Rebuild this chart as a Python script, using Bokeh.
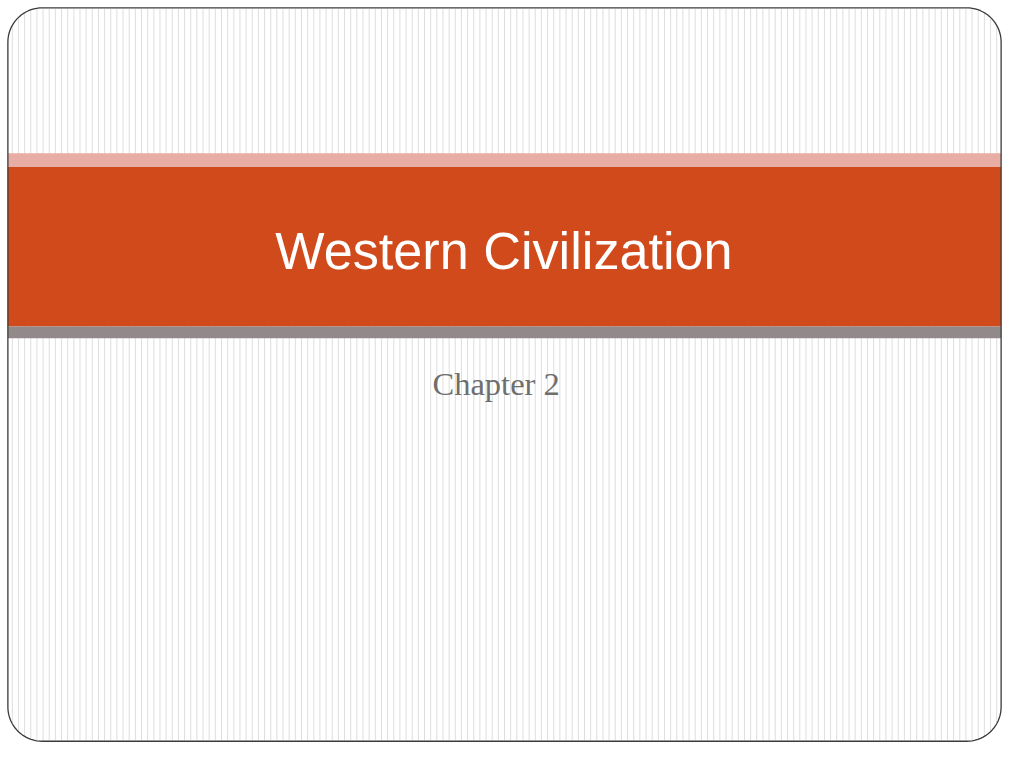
import numpy as np
from bokeh.plotting import figure
from bokeh.models import Range1d, ColumnDataSource
from bokeh.core.properties import value
from bokeh.embed import file_html
from bokeh.resources import INLINE

# ---- content ----
title_text = ["Western Civilization"]
subtitle_text = ["Chapter 2"]

# band names and colours (top to bottom)
band_names = ["accent", "main", "shadow"]
band_colors = ["#E8AEA5", "#D14A1B", "#928A8A"]

# ---- layout (slide coordinates, 1024 x 768 slide) ----
SLIDE_W, SLIDE_H = 1024, 768
FRAME_L, FRAME_R, FRAME_T, FRAME_B = 7.5, 1016.5, 7.5, 756.5
RADIUS = 35
band_tops = [156, 170, 333]
band_bottoms = [170, 333, 345]
STRIPE_START, STRIPE_STEP = 12.0, 6.25
SCALE = 1008 / SLIDE_W

p = figure(width=1008, height=752, output_backend="svg", toolbar_location=None,
           x_range=Range1d(0, SLIDE_W), y_range=Range1d(SLIDE_H, 0),
           x_axis_location=None, y_axis_location=None, min_border=0,
           outline_line_color=None, background_fill_color="white",
           border_fill_color="white")
p.grid.visible = False

# stripes clipped to rounded frame
xs = np.arange(STRIPE_START, FRAME_R, STRIPE_STEP)
y0s, y1s = [], []
for x in xs:
    d = 0.0
    if x < FRAME_L + RADIUS:
        dx = FRAME_L + RADIUS - x
        d = RADIUS - np.sqrt(max(RADIUS**2 - dx**2, 0))
    elif x > FRAME_R - RADIUS:
        dx = x - (FRAME_R - RADIUS)
        d = RADIUS - np.sqrt(max(RADIUS**2 - dx**2, 0))
    y0s.append(FRAME_T + d + 1)
    y1s.append(FRAME_B - d - 1)
p.segment(x0=xs, y0=y0s, x1=xs, y1=y1s, line_color="#DEDEDE", line_width=1)

# bands
band_src = ColumnDataSource(dict(name=band_names, top=band_tops, bottom=band_bottoms, color=band_colors))
p.quad(left=FRAME_L, right=FRAME_R, top="top", bottom="bottom",
       fill_color="color", line_color=None, source=band_src)

# rounded frame outline
def arc(cx, cy, a0, a1):
    t = np.linspace(np.radians(a0), np.radians(a1), 20)
    return cx + RADIUS * np.cos(t), cy + RADIUS * np.sin(t)

parts = [
    arc(FRAME_L + RADIUS, FRAME_T + RADIUS, 180, 270),
    arc(FRAME_R - RADIUS, FRAME_T + RADIUS, 270, 360),
    arc(FRAME_R - RADIUS, FRAME_B - RADIUS, 0, 90),
    arc(FRAME_L + RADIUS, FRAME_B - RADIUS, 90, 180),
]
fx = np.concatenate([pp[0] for pp in parts] + [parts[0][0][:1]])
fy = np.concatenate([pp[1] for pp in parts] + [parts[0][1][:1]])
p.line(fx, fy, line_color="#3A3A3A", line_width=1.3)

# texts
p.text(x=[511.5], y=[256], text=title_text, text_color="white",
       text_font=value("Liberation Sans"), text_font_size=f"{53 * SCALE:.1f}px",
       text_align="center", text_baseline="alphabetic")
p.text(x=[503.5], y=[392], text=subtitle_text, text_color="#6E6E6E",
       text_font=value("Liberation Serif"), text_font_size=f"{33 * SCALE:.1f}px",
       text_align="center", text_baseline="alphabetic")

open("out.html", "w").write(file_html(p, INLINE))
